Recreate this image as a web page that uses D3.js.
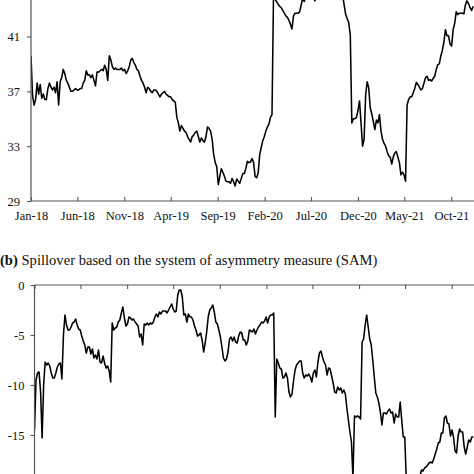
<!DOCTYPE html>
<html>
<head>
<meta charset="utf-8">
<script src="https://cdn.jsdelivr.net/npm/d3@7"></script>
<style>
  html, body { margin: 0; padding: 0; background: #fff; }
  svg { display: block; }
  text { font-family: "Liberation Serif", "Times New Roman", serif; }
</style>
</head>
<body>
<svg id="chart" width="474" height="474"></svg>
<script>
// ---------------- DATA ----------------
const startDate = "2018-01-01";
const stepDays = 5;
const tickLabels = ["Jan-18","Jun-18","Nov-18","Apr-19","Sep-19","Feb-20","Jul-20","Dec-20","May-21","Oct-21"];
const topYTicks = [29, 33, 37, 41];
const bottomYTicks = [0, -5, -10, -15];
const captionBold = "(b)";
const captionText = " Spillover based on the system of asymmetry measure (SAM)";

// Panel (a) (upper part, cropped) values every 5 days
const topValues = [
  39.6, 36.7, 36.0, 36.4, 37.6, 36.8, 37.5, 36.5, 36.8, 36.4,
  36.4, 37.2, 37.6, 37.3, 37.1, 37.3, 36.9, 37.7, 36.0, 37.7,
  38.0, 38.6, 38.3, 37.8, 37.6, 37.3, 37.0, 37.0, 37.1, 37.2,
  37.1, 37.1, 37.2, 37.2, 37.6, 37.8, 38.5, 38.2, 38.2, 38.0,
  38.2, 37.8, 37.4, 38.4, 38.4, 38.5, 38.6, 38.5, 38.9, 38.6,
  37.8, 39.6, 39.3, 38.8, 38.6, 38.7, 38.6, 38.6, 38.6, 38.7,
  38.5, 38.6, 38.3, 38.5, 38.8, 39.3, 39.4, 39.1, 38.9, 38.6,
  38.5, 38.1, 37.8, 37.6, 37.3, 36.9, 37.3, 37.2, 37.0, 36.9,
  37.1, 37.1, 37.0, 36.8, 36.6, 36.8, 36.9, 37.0, 36.8, 36.7,
  36.6, 36.6, 36.4, 36.3, 36.2, 35.1, 34.7, 34.1, 34.5, 34.3,
  34.1, 34.0, 33.7, 33.5, 33.3, 33.7, 33.8, 34.0, 34.1, 33.7,
  33.3, 33.6, 33.4, 33.3, 33.7, 34.4, 34.3, 34.1, 33.5, 32.4,
  31.8, 31.5, 30.2, 30.8, 31.35, 31.1, 30.8, 30.45, 30.4, 30.4,
  30.3, 30.65, 30.4, 30.1, 30.6, 30.45, 30.3, 30.65, 31.0, 31.0,
  31.4, 31.9, 31.8, 31.85, 32.1, 31.8, 30.8, 30.7, 31.05, 32.4,
  32.9, 33.4, 33.7, 34.1, 34.4, 34.6, 35.1, 35.3, 44.2, 43.7,
  43.55, 43.35, 43.2, 43.1, 42.9, 42.7, 42.5, 42.4, 42.2, 41.9,
  41.55, 42.5, 42.7, 42.7, 42.7, 42.8, 43.3, 43.8, 43.55, 44.0,
  44.2, 44.5, 44.3, 44.0, 43.9, 43.6, 44.1, 44.6, 45.0, 45.2,
  45.0, 45.3, 45.6, 45.4, 45.8, 46.0, 45.7, 45.5, 45.8, 45.4,
  45.1, 44.8, 44.5, 44.0, 43.3, 42.6, 42.3, 42.0, 41.1, 34.7,
  35.0, 35.0, 35.1, 35.6, 36.3, 34.7, 33.0, 33.5, 36.75, 37.7,
  37.25, 35.8, 35.35, 34.8, 34.2, 34.9, 34.7, 35.3, 34.1, 33.5,
  33.2, 33.0, 32.6, 32.3, 32.2, 31.7, 32.2, 32.5, 32.6, 32.2,
  31.8, 30.9, 31.1, 30.9, 30.45, 36.0, 36.4, 36.6, 36.6, 36.9,
  37.2, 37.65, 37.5, 37.3, 37.1, 37.2, 37.6, 38.0, 38.1, 37.8,
  37.85, 37.75, 37.95, 38.1, 38.6, 38.95, 39.0, 39.6, 40.0, 40.6,
  41.5, 41.05, 41.05, 40.45, 40.3, 41.5, 41.95, 42.8, 42.6, 42.7,
  42.7, 42.7, 42.65, 43.3, 43.6, 43.4, 43.1, 42.9, 43.2
];

// Panel (b) SAM values every 5 days
const samValues = [
  -14.5, -9.5, -8.8, -8.7, -10.7, -15.3, -10.0, -7.7, -8.0, -7.8,
  -8.1, -8.8, -9.3, -9.3, -8.8, -8.2, -7.9, -7.8, -9.4, -5.0,
  -3.0, -4.0, -4.5, -4.5, -4.2, -3.8, -3.7, -3.4, -4.0, -4.4,
  -4.5, -5.1, -5.6, -6.0, -6.8, -6.2, -6.2, -6.9, -6.4, -7.3,
  -7.0, -7.4, -6.5, -7.7, -7.8, -7.1, -7.8, -8.3, -8.1, -8.6,
  -9.7, -3.8, -4.5, -4.3, -4.2, -3.7, -3.5, -2.8, -2.2, -3.3,
  -4.1, -3.9, -3.2, -3.3, -3.5, -3.4, -3.7, -3.9, -4.1, -5.2,
  -4.9, -6.0, -3.9, -4.0, -3.8, -4.0, -3.8, -3.9, -3.7, -3.2,
  -2.9, -3.2, -2.7, -2.9, -2.6, -2.6, -2.6, -2.8, -2.5, -2.2,
  -1.9, -2.4, -2.7, -2.6, -1.0, -0.5, -0.5, -1.2, -3.0, -2.9,
  -3.7, -2.9, -3.2, -3.2, -3.5, -4.1, -4.5, -5.1, -5.0, -4.8,
  -5.5, -6.7, -5.8, -4.7, -3.2, -2.5, -2.3, -2.0, -2.7, -3.7,
  -3.9, -4.5, -5.2, -6.2, -7.3, -7.6, -7.4, -6.7, -5.4, -5.2,
  -5.6, -5.2, -5.7, -5.8, -5.1, -4.7, -4.8, -5.5, -5.5, -6.0,
  -5.6, -4.5, -4.6, -4.7, -4.4, -4.9, -4.5, -4.2, -4.0, -3.7,
  -3.8, -3.6, -3.2, -3.8, -3.2, -3.0, -3.0, -2.8, -13.2, -7.4,
  -7.8, -8.3, -8.4, -9.3, -9.2, -8.8, -9.3, -10.7, -11.2, -10.9,
  -9.6, -8.5, -8.0, -7.8, -7.6, -7.6, -8.8, -9.3, -9.0, -9.1,
  -8.9, -9.2, -9.7, -8.8, -8.5, -9.2, -7.7, -6.8, -6.6, -7.2,
  -7.7, -8.0, -9.0, -8.3, -8.4, -9.1, -9.8, -10.7, -10.8, -10.2,
  -10.5, -10.3, -10.8, -10.5, -10.9, -12.3, -13.5, -14.7, -15.7, -19.3,
  -13.1, -13.2, -13.1, -13.2, -13.4, -5.7, -5.4, -4.0, -3.0, -4.2,
  -5.4, -6.0, -7.5, -9.2, -10.8, -11.2, -11.8, -12.7, -14.0, -12.8,
  -12.8, -12.9, -12.6, -12.4, -12.8, -12.7, -13.8, -12.9, -13.2, -13.2,
  -11.7, -13.5, -15.2, -15.2, -19.5, -20.0, -20.3, -20.6, -20.8, -20.5,
  -20.2, -19.9, -19.6, -19.1, -18.5, -18.6, -18.3, -18.2, -18.0, -17.8,
  -17.7, -17.8, -17.4, -16.9, -16.4, -15.8, -15.7, -14.8, -14.8, -13.3,
  -13.1, -13.8, -13.9, -15.1, -14.5, -15.2, -16.6, -16.8, -15.1, -14.4,
  -14.7, -14.7, -16.2, -16.9, -16.2, -15.5, -15.7, -15.2, -15.2
];

// ---------------- DRAW ----------------
const W = 474, H = 474;
const svg = d3.select("#chart");
const parseTick = d3.timeParse("%b-%y");
const tickDates = tickLabels.map(parseTick);
const t0 = d3.timeParse("%Y-%m-%d")(startDate);
const dateAt = i => d3.timeDay.offset(t0, i * stepDays);
const axisColor = "#555";
const fontSize = 12.5;
const plainNum = d => String(d);   // ASCII hyphen-minus, as in the reference

// ----- Panel (a): upper part -----
const topP = { left: 31, right: 451.3, axisY: 201 };
const xTop = d3.scaleTime().domain([tickDates[0], tickDates[tickDates.length - 1]]).range([topP.left, topP.right]);
const yTop = d3.scaleLinear().domain([29, 41]).range([201, 36.5]);

svg.append("clipPath").attr("id", "clipTop").append("rect")
  .attr("x", topP.left).attr("y", 0).attr("width", W - topP.left).attr("height", topP.axisY);

svg.append("path")
  .datum(topValues)
  .attr("clip-path", "url(#clipTop)")
  .attr("fill", "none").attr("stroke", "#000").attr("stroke-width", 1.55)
  .attr("stroke-linejoin", "round")
  .attr("d", d3.line().x((d, i) => xTop(dateAt(i))).y(d => yTop(d)));

const gTopY = svg.append("g").attr("transform", `translate(${topP.left},0)`)
  .call(d3.axisLeft(yTop).tickValues(topYTicks).tickFormat(plainNum).tickSize(4).tickSizeOuter(0).tickPadding(7));
gTopY.select(".domain").remove();
gTopY.append("line").attr("x1", 0).attr("x2", 0).attr("y1", 0).attr("y2", topP.axisY).attr("stroke", axisColor).attr("stroke-width", 1.2);

const gTopX = svg.append("g").attr("transform", `translate(0,${topP.axisY})`)
  .call(d3.axisBottom(xTop).tickValues(tickDates).tickFormat(d3.timeFormat("%b-%y")).tickSize(-4).tickSizeOuter(0).tickPadding(10));
gTopX.select(".domain").remove();
gTopX.append("line").attr("x1", topP.left).attr("x2", W).attr("y1", 0).attr("y2", 0).attr("stroke", axisColor).attr("stroke-width", 1.2);

// ----- Caption -----
const cap = svg.append("text").attr("x", 0).attr("y", 265).attr("font-size", 14.6).attr("fill", "#111");
cap.append("tspan").attr("font-weight", "bold").text(captionBold);
cap.append("tspan").text(captionText);

// ----- Panel (b): SAM -----
const botP = { left: 34.5, right: 451.7, axisY: 285 };
const xBot = d3.scaleTime().domain([tickDates[0], tickDates[tickDates.length - 1]]).range([botP.left, botP.right]);
const yBot = d3.scaleLinear().domain([0, -15]).range([botP.axisY, 435]);

svg.append("clipPath").attr("id", "clipBot").append("rect")
  .attr("x", botP.left).attr("y", botP.axisY).attr("width", W - botP.left).attr("height", H - botP.axisY);

svg.append("path")
  .datum(samValues)
  .attr("clip-path", "url(#clipBot)")
  .attr("fill", "none").attr("stroke", "#000").attr("stroke-width", 1.55)
  .attr("stroke-linejoin", "round")
  .attr("d", d3.line().x((d, i) => xBot(dateAt(i))).y(d => yBot(d)));

const gBotY = svg.append("g").attr("transform", `translate(${botP.left},0)`)
  .call(d3.axisLeft(yBot).tickValues(bottomYTicks).tickFormat(plainNum).tickSize(4).tickSizeOuter(0).tickPadding(6));
gBotY.select(".domain").remove();
gBotY.append("line").attr("x1", 0).attr("x2", 0).attr("y1", botP.axisY).attr("y2", H).attr("stroke", axisColor).attr("stroke-width", 1.2);

const gBotX = svg.append("g").attr("transform", `translate(0,${botP.axisY})`)
  .call(d3.axisTop(xBot).tickValues(tickDates).tickFormat("").tickSize(-4).tickSizeOuter(0));
gBotX.select(".domain").remove();
gBotX.append("line").attr("x1", botP.left).attr("x2", W).attr("y1", 0).attr("y2", 0).attr("stroke", axisColor).attr("stroke-width", 1.2);

// common axis styling
svg.selectAll(".tick line").attr("stroke", axisColor).attr("stroke-width", 1.1);
svg.selectAll(".tick text").attr("font-family", "'Liberation Serif','Times New Roman',serif").attr("font-size", fontSize).attr("fill", "#111");
</script>
</body>
</html>
